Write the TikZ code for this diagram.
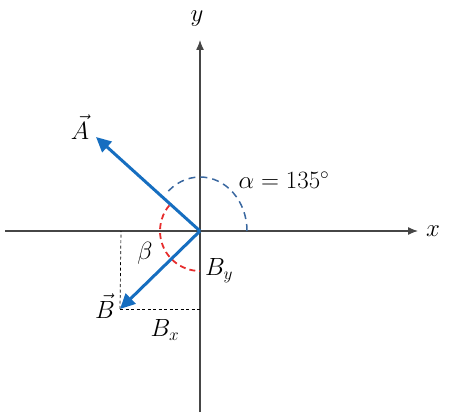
\documentclass[tikz,border=0pt]{standalone}
\usetikzlibrary{arrows.meta,calc}
\definecolor{vecblue}{RGB}{22,110,192}
\definecolor{arcblue}{RGB}{58,104,160}
\definecolor{arcred}{RGB}{230,45,45}
\definecolor{axisgray}{RGB}{70,70,70}
\tikzset{
  axis/.style={draw=axisgray, line width=1.3pt, -{Latex[length=10pt,width=8pt]}},
  vecarrow/.style={draw=vecblue, line width=3pt, -{Triangle[length=15pt,width=14pt]}},
  helper/.style={draw=black, line width=0.7pt, dash pattern=on 3pt off 2.5pt},
  alphaarc/.style={draw=arcblue, line width=1.5pt, dash pattern=on 7pt off 5pt},
  betaarc/.style={draw=arcred, line width=1.8pt, dash pattern=on 6pt off 4pt},
  lbl/.style={inner sep=0pt, font=\fontsize{23}{27}\selectfont}
}
\begin{document}
\begin{tikzpicture}[x=1pt,y=-1pt]
\useasboundingbox (0,0) rectangle (450,420);
\coordinate (O) at (200,231);
\coordinate (xl) at (5,231);
\coordinate (xr) at (418,231);
\coordinate (yb) at (200,412);
\coordinate (yt) at (200,40);
\coordinate (A) at (96,137);
\coordinate (B) at (120,309);
\coordinate (Bxc) at (121,231);
\coordinate (Byc) at (200,309);
\coordinate (alphastart) at (247,231);
\coordinate (betastart) at ($(O)+(-140:40)$);
% axes
\draw[axis] (xl) -- (xr);
\draw[axis] (yb) -- (yt);
% helper lines
\draw[helper] (B) -- (Bxc);
\draw[helper] (B) -- (Byc);
% arcs
\draw[alphaarc] (alphastart) arc[x radius=47, y radius=54, start angle=0, end angle=-137];
\draw[betaarc] (betastart) arc[radius=40, start angle=-140, end angle=-270];
% vectors
\draw[vecarrow] (O) -- (A);
\draw[vecarrow] (O) -- (B);
% labels
\node[lbl] (lx) at (433,231) {$x$};
\node[lbl] (ly) at (197,19) {$y$};
\node[lbl] (lA) at (80,127) {$\vec{A}$};
\node[lbl] (lB) at (105,306) {$\vec{B}$};
\node[lbl] (lalpha) at (284,180) {$\alpha = 135^\circ$};
\node[lbl] (lbeta) at (145,253) {$\beta$};
\node[lbl] (lBy) at (219,271) {$B_y$};
\node[lbl] (lBx) at (165,330) {$B_x$};
\end{tikzpicture}
\end{document}
